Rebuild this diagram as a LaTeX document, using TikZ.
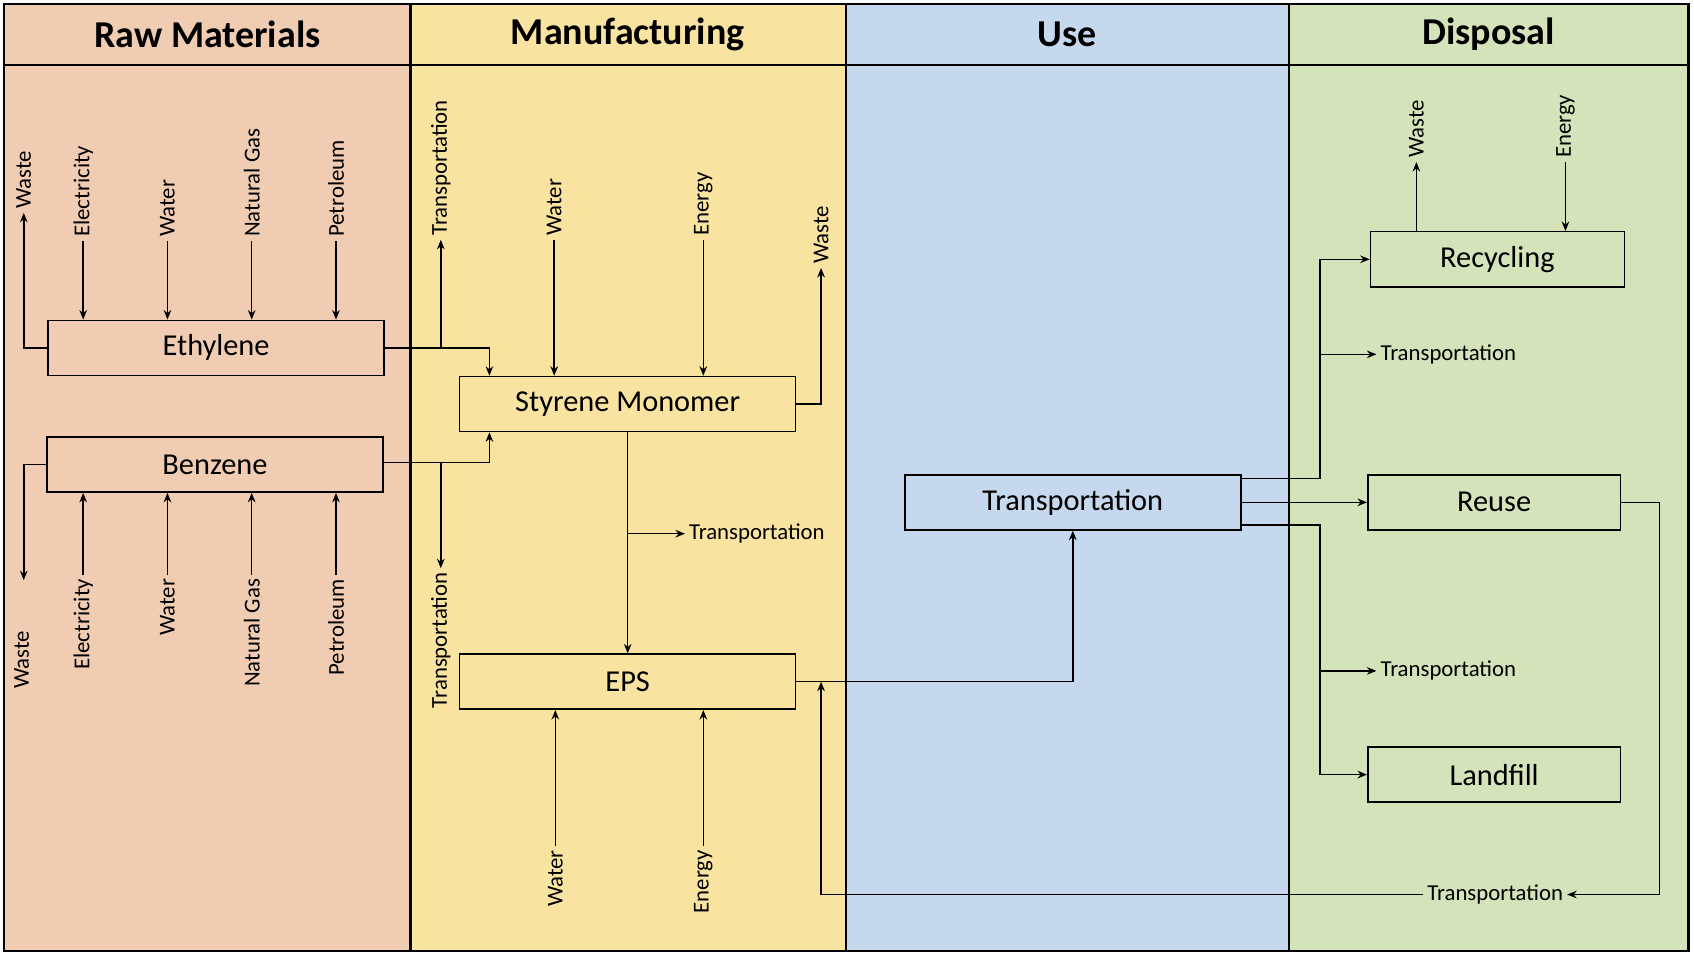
\documentclass[tikz,border=0pt]{standalone}
\usepackage{fontspec}
\setmainfont{Carlito}
\usetikzlibrary{arrows.meta,calc}

\definecolor{rawcol}{HTML}{F0CDB2}
\definecolor{mancol}{HTML}{F9E3A1}
\definecolor{usecol}{HTML}{C6D8EE}
\definecolor{discol}{HTML}{D4E3B9}

\tikzset{
  box/.style={draw, thick, minimum width=#1, minimum height=1.02cm, inner sep=0pt, font=\fontsize{16}{19}\selectfont},
  box/.default=6.22cm,
  lbl/.style={font=\fontsize{12}{14}\selectfont, inner sep=2pt},
  up/.style={lbl, rotate=90, anchor=west},
  dn/.style={lbl, rotate=90, anchor=east},
  head/.style={font=\fontsize{20}{24}\selectfont\bfseries},
  flow/.style={thick, -{Stealth[length=5pt,width=4pt]}},
  link/.style={thick}
}

\begin{document}
\begin{tikzpicture}[x=0.02cm, y=-0.02cm]
      	\useasboundingbox (0,0) rectangle (1568,884);

      	% lanes
      	\fill[rawcol] (4,4) rectangle (380,880);
      	\fill[mancol] (380,4) rectangle (783,880);
      	\fill[usecol] (783,4) rectangle (1193,880);
      	\fill[discol] (1193,4) rectangle (1563,880);
      	\draw[very thick] (4,4) rectangle (1563,880);
      	\draw[very thick] (4,60) -- (1563,60);
      	\foreach \x in {380,783,1193}
      		\draw[very thick] (\x,4) -- (\x,880);

      	\node[head] at (192,32) {Raw Materials};
      	\node[head] at (581,32) {Manufacturing};
      	\node[head] at (988,32) {Use};
      	\node[head] at (1378,32) {Disposal};

      	% boxes
      	\node[box] (ethylene) at (200,322) {Ethylene};
      	\node[box] (benzene) at (199,430) {Benzene};
      	\node[box] (styrene) at (581,374) {Styrene Monomer};
      	\node[box] (eps) at (581,631) {EPS};
      	\node[box] (use) at (993,465) {Transportation};
      	\node[box=4.7cm] (recycling) at (1386,240) {Recycling};
      	\node[box=4.68cm] (reuse) at (1383,465) {Reuse};
      	\node[box=4.68cm] (landfill) at (1383,717) {Landfill};

      	% raw materials
      	\foreach \x/\t [count=\i] in {77/Electricity,155/Water,233/Natural Gas,311/Petroleum}{
      		\node[up] (ein\i) at (\x,223) {\t};
      		\draw[flow] (ein\i.west) -- (ein\i.west |- ethylene.north);
      		\node[dn] (bin\i) at (\x,532) {\t};
      		\draw[flow] (bin\i.east) -- (bin\i.east |- benzene.south);
      	}
      	\node[up] (ewaste) at (22,197) {Waste};
      	\draw[flow] (ethylene.west) -| (ewaste.west);
      	\node[dn] (bwaste) at (20,580) {Waste};
      	\coordinate (bw) at (22,537);
      	\draw[flow] (benzene.west) -| (bw);

      	% manufacturing
      	\coordinate (sin1) at (453,322);
      	\coordinate (sin2) at (453,428);
      	\draw[flow] (ethylene.east) -| (sin1) -- (sin1 |- styrene.north);
      	\draw[flow] (benzene.east |- sin2) -| (sin2) -- (sin2 |- styrene.south);
      	\node[up] (mt1) at (408,222) {Transportation};
      	\draw[flow] (mt1.west |- sin1) -- (mt1.west);
      	\node[dn] (mt2) at (408,526) {Transportation};
      	\draw[flow] (mt2.east |- sin2) -- (mt2.east);
      	\node[up] (swater) at (513,222) {Water};
      	\draw[flow] (swater.west) -- (swater.west |- styrene.north);
      	\node[up] (senergy) at (651,222) {Energy};
      	\draw[flow] (senergy.west) -- (senergy.west |- styrene.north);
      	\node[up] (swaste) at (760,248) {Waste};
      	\draw[flow] (styrene.east) -| (swaste.west);
      	\draw[flow] (styrene.south) -- (eps.north);
      	\node[lbl, anchor=west] (st) at (634,494) {Transportation};
      	\draw[flow] (styrene.south |- st) -- (st.west);
      	\node[dn] (ewater) at (514,783) {Water};
      	\draw[flow] (ewater.east) -- (ewater.east |- eps.south);
      	\node[dn] (eenergy) at (651,783) {Energy};
      	\draw[flow] (eenergy.east) -- (eenergy.east |- eps.south);

      	% use
      	\draw[flow] (eps.east) -| (use.south);

      	% disposal
      	\coordinate (ua) at (1148,443);
      	\coordinate (ub) at (1148,486);
      	\draw[flow] (ua) -- (1222,443) |- (recycling.west);
      	\draw[flow] (use.east) -- (reuse.west);
      	\draw[flow] (ub) -- (1222,486) |- (landfill.west);
      	\node[lbl, anchor=west] (dt1) at (1274,328) {Transportation};
      	\draw[flow] (1222,328) -- (dt1.west);
      	\node[lbl, anchor=west] (dt2) at (1274,621) {Transportation};
      	\draw[flow] (1222,621) -- (dt2.west);
      	\node[up] (rwaste) at (1311,150) {Waste};
      	\draw[flow] (rwaste.west |- recycling.north) -- (rwaste.west);
      	\node[up] (renergy) at (1449,150) {Energy};
      	\draw[flow] (renergy.west) -- (renergy.west |- recycling.north);

      	% return loop
      	\node[lbl] (back) at (1384,828) {Transportation};
      	\coordinate (ret) at (760,631);
      	\draw[flow] (reuse.east) -- (1536,465) |- (back.east);
      	\draw[flow] (back.west) -| (ret);
\end{tikzpicture}
\end{document}
